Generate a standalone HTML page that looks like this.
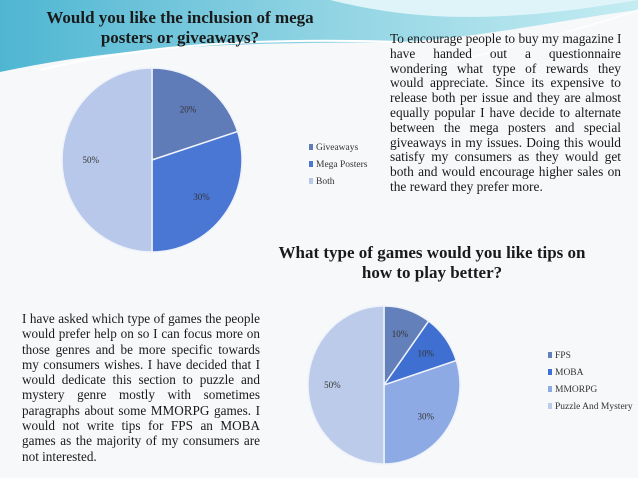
<!DOCTYPE html>
<html><head><meta charset="utf-8"><style>
body{margin:0;width:638px;height:478px;overflow:hidden;background:#f7f8fa;font-family:"Liberation Serif",serif;position:relative}
.t{position:absolute;font-weight:bold;color:#1a1a1a;text-align:center;font-size:17px;line-height:20px}
.p{position:absolute;color:#1a1a1a}
.p span{display:block;text-align:justify;text-align-last:justify;white-space:nowrap}
.p span.l{text-align-last:left}
</style></head><body>
<svg width="638" height="80" style="position:absolute;left:0;top:0">
<defs><linearGradient id="hg" x1="0" x2="1"><stop offset="0" stop-color="#4fb6d2"/><stop offset="0.5" stop-color="#8fd3e3"/><stop offset="1" stop-color="#c4ecf2"/></linearGradient></defs>
<path d="M0 0H638V10C560 20 480 38 400 42C280 44 150 40 0 72Z" fill="url(#hg)"/>
<path d="M330 0C430 25 520 20 638 0V0Z" fill="#dff4f8"/>
<path d="M40 70C150 42 280 38 400 42" stroke="#fff" stroke-width="2" fill="none"/>
<path d="M420 70C500 50 580 30 638 10" stroke="#fff" stroke-width="1.5" fill="none" opacity="0.8"/>
</svg>
<div class="t" style="left:30px;top:8px;width:300px">Would you like the inclusion of mega<br>posters or giveaways?</div>
<div class="p" style="left:390px;top:32px;width:231px;font-size:13.4px;line-height:14.8px"><span>To encourage people to buy my magazine I</span><span>have handed out a questionnaire</span><span>wondering what type of rewards they</span><span>would appreciate. Since its expensive to</span><span>release both per issue and they are almost</span><span>equally popular I have decide to alternate</span><span>between the mega posters and special</span><span>giveaways in my issues. Doing this would</span><span>satisfy my consumers as they would get</span><span>both and would encourage higher sales on</span><span class="l">the reward they prefer more.</span></div>
<div class="t" style="left:262px;top:243px;width:340px">What type of games would you like tips on<br>how to play better?</div>
<div class="p" style="left:22px;top:311px;width:238px;font-size:13.2px;line-height:15.3px"><span>I have asked which type of games the people</span><span>would prefer help on so I can focus more on</span><span>those genres and be more specific towards</span><span>my consumers wishes. I have decided that I</span><span>would dedicate this section to puzzle and</span><span>mystery genre mostly with sometimes</span><span>paragraphs about some MMORPG games. I</span><span>would not write tips for FPS an MOBA</span><span>games as the majority of my consumers are</span><span class="l">not interested.</span></div>
<svg id="charts" width="638" height="478" style="position:absolute;left:0;top:0"></svg>
<script>
const c1Labels=["Giveaways","Mega Posters","Both"];
const c1Values=[20,30,50];
const c2Labels=["FPS","MOBA","MMORPG","Puzzle And Mystery"];
const c2Values=[10,10,30,50];
const c1Colors=["#5f7bb8","#4b77d4","#b8c8ea"];
const c2Colors=["#6480bb","#3f6fd0","#8eaae4","#bccbea"];
const NS="http://www.w3.org/2000/svg";
const svg=document.getElementById('charts');
function mk(t,a){const e=document.createElementNS(NS,t);for(const k in a)e.setAttribute(k,a[k]);svg.appendChild(e);return e;}
function pie(vals,labels,cols,cx,cy,rx,ry,lx,ly,name,fs){
 const tot=vals.reduce((a,b)=>a+b,0);let a0=0;
 vals.forEach((v,i)=>{
  const a1=a0+v/tot*2*Math.PI;
  const x0=cx+rx*Math.sin(a0),y0=cy-ry*Math.cos(a0),x1=cx+rx*Math.sin(a1),y1=cy-ry*Math.cos(a1);
  const p=mk('path',{d:`M${cx} ${cy}L${x0} ${y0}A${rx} ${ry} 0 ${a1-a0>Math.PI?1:0} 1 ${x1} ${y1}Z`,fill:cols[i],stroke:'#eef2fa','stroke-width':1.5});
  
  
  const am=(a0+a1)/2,f=0.68;
  const t=mk('text',{x:cx+rx*f*Math.sin(am),y:cy-ry*f*Math.cos(am)+3,'font-size':9,'text-anchor':'middle',fill:'#333','font-family':'Liberation Serif, serif'});
  t.textContent=v+'%';
  
  
  const r=mk('rect',{x:lx,y:ly+i*17-6,width:4,height:6,fill:cols[i]});
  
  
  const lt=mk('text',{x:lx+7,y:ly+i*17,'font-size':fs,fill:'#333','font-family':'Liberation Serif, serif'});
  lt.textContent=labels[i];
  
  
  a0=a1;
 });
}
pie(c1Values,c1Labels,c1Colors,152,160,90,92,309,150,'chart1',9.5);
pie(c2Values,c2Labels,c2Colors,384,385,76,79,548,358,'chart2',9.5);
</script>
</body></html>
